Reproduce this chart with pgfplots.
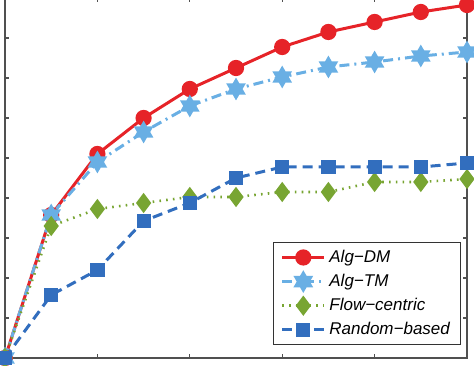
\documentclass[border=0pt]{standalone}
\usepackage{fontspec}
\setmainfont{Liberation Sans}
\usepackage{pgfplots}
\pgfplotsset{compat=1.18}
\definecolor{cdm}{RGB}{230,35,40}
\definecolor{ctm}{RGB}{105,175,228}
\definecolor{cfc}{RGB}{120,165,50}
\definecolor{crb}{RGB}{50,110,190}
\definecolor{caxis}{RGB}{80,80,80}
\pgfdeclareplotmark{hexstar}{%
  \pgfpathmoveto{\pgfpointpolar{90}{\pgfplotmarksize}}%
  \pgfpathlineto{\pgfpointpolar{120}{0.577\pgfplotmarksize}}%
  \pgfpathlineto{\pgfpointpolar{150}{\pgfplotmarksize}}%
  \pgfpathlineto{\pgfpointpolar{180}{0.577\pgfplotmarksize}}%
  \pgfpathlineto{\pgfpointpolar{210}{\pgfplotmarksize}}%
  \pgfpathlineto{\pgfpointpolar{240}{0.577\pgfplotmarksize}}%
  \pgfpathlineto{\pgfpointpolar{270}{\pgfplotmarksize}}%
  \pgfpathlineto{\pgfpointpolar{300}{0.577\pgfplotmarksize}}%
  \pgfpathlineto{\pgfpointpolar{330}{\pgfplotmarksize}}%
  \pgfpathlineto{\pgfpointpolar{0}{0.577\pgfplotmarksize}}%
  \pgfpathlineto{\pgfpointpolar{30}{\pgfplotmarksize}}%
  \pgfpathlineto{\pgfpointpolar{60}{0.577\pgfplotmarksize}}%
  \pgfpathclose
  \pgfusepathqfillstroke}
\begin{document}
\begin{tikzpicture}
\begin{axis}[
  scale only axis,
  width=231pt, height=180pt,
  xmin=0, xmax=10, ymin=0, ymax=9,
  xtick={0,2,4,6,8,10}, ytick={0,1,2,3,4,5,6,7,8,9},
  xticklabels={}, yticklabels={},
  tick align=inside,
  major tick length=2.2pt,
  every tick/.style={caxis, line width=0.6pt},
  axis line style={caxis, line width=0.9pt},
  clip=false,
  legend style={at={(1,0)}, anchor=south east, xshift=-3pt, yshift=6.5pt,
    font=\fontsize{8.5}{10}\selectfont\itshape, draw=black!80, line width=0.5pt,
    inner xsep=3.5pt, inner ysep=1.5pt, row sep=0.4pt, fill=white,
    nodes={inner xsep=1.8pt, inner ysep=2pt}},
  legend cell align=left,
  legend image code/.code={\draw[mark repeat=2, mark phase=2] plot coordinates {(0pt,0pt)(10.5pt,0pt)(21pt,0pt)};},
]
\coordinate (sw) at (rel axis cs:0,0);
\coordinate (ne) at (rel axis cs:1,1);
\addplot[cdm, line width=1.5pt, mark=*, mark size=3.3pt, mark options={solid, fill=cdm}]
  coordinates {(0,0)(1,3.575)(2,5.1)(3,6.0)(4,6.725)(5,7.25)(6,7.775)(7,8.15)(8,8.4)(9,8.65)(10,8.825)};
\addlegendentry{Alg\textminus DM}
\addplot[ctm, line width=1.5pt, dash pattern=on 5pt off 2.5pt on 1pt off 2.5pt, mark=hexstar, mark size=4.2pt, mark options={solid, fill=ctm}]
  coordinates {(0,0)(1,3.575)(2,4.9)(3,5.65)(4,6.3)(5,6.725)(6,7.025)(7,7.275)(8,7.4)(9,7.55)(10,7.65)};
\addlegendentry{Alg\textminus TM}
\addplot[cfc, line width=1.3pt, dash pattern=on 0.8pt off 2.6pt, mark=diamond*, mark size=4pt, mark options={solid, fill=cfc}]
  coordinates {(0,0)(1,3.3)(2,3.725)(3,3.875)(4,4.025)(5,4.025)(6,4.15)(7,4.15)(8,4.4)(9,4.4)(10,4.475)};
\addlegendentry{Flow\textminus centric}
\addplot[crb, line width=1.5pt, dash pattern=on 5pt off 3pt, mark=square*, mark size=2.8pt, mark options={solid, fill=crb}]
  coordinates {(0,0)(1,1.575)(2,2.2)(3,3.425)(4,3.875)(5,4.5)(6,4.775)(7,4.775)(8,4.775)(9,4.775)(10,4.875)};
\addlegendentry{Random\textminus based}
\end{axis}
\pgfresetboundingbox
\path[use as bounding box] ([xshift=-2.5pt,yshift=-4pt]sw) rectangle ([xshift=3.5pt,yshift=-1pt]ne);
\end{tikzpicture}
\end{document}
